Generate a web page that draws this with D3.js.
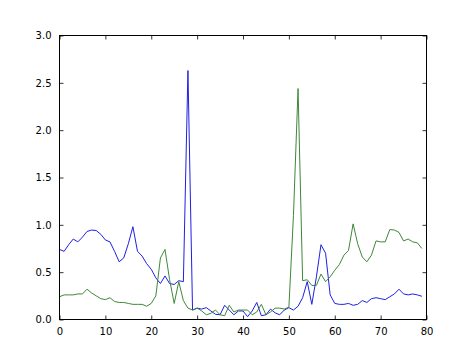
<!DOCTYPE html>
<html>
<head>
<meta charset="utf-8">
<script src="https://cdn.jsdelivr.net/npm/d3@7"></script>
<style>
  body { margin: 0; background: #fff; }
  text { font-family: "DejaVu Sans", sans-serif; font-size: 10px; fill: #000; }
</style>
</head>
<body>
<div id="chart"></div>
<script>
// values, one per index 0..79
const blueValues = [
  0.74, 0.72, 0.79, 0.85, 0.82, 0.87, 0.93, 0.945, 0.94, 0.9,
  0.84, 0.82, 0.72, 0.61, 0.65, 0.8, 0.98, 0.72, 0.67, 0.59,
  0.53, 0.44, 0.38, 0.46, 0.38, 0.37, 0.41, 0.4, 2.63, 0.1,
  0.12, 0.11, 0.125, 0.09, 0.055, 0.05, 0.15, 0.1, 0.05, 0.09,
  0.09, 0.03, 0.09, 0.18, 0.04, 0.05, 0.11, 0.07, 0.05, 0.1,
  0.125, 0.1, 0.14, 0.23, 0.4, 0.16, 0.45, 0.79, 0.7, 0.26,
  0.17, 0.16, 0.16, 0.17, 0.15, 0.16, 0.2, 0.18, 0.22, 0.23,
  0.22, 0.21, 0.24, 0.27, 0.32, 0.27, 0.26, 0.27, 0.26, 0.245
];
const greenValues = [
  0.24, 0.26, 0.26, 0.26, 0.27, 0.27, 0.32, 0.28, 0.25, 0.22,
  0.21, 0.23, 0.19, 0.18, 0.18, 0.17, 0.16, 0.16, 0.16, 0.14,
  0.17, 0.25, 0.65, 0.74, 0.42, 0.17, 0.4, 0.2, 0.12, 0.1,
  0.12, 0.09, 0.05, 0.065, 0.1, 0.05, 0.04, 0.15, 0.08, 0.1,
  0.1, 0.1, 0.05, 0.08, 0.16, 0.05, 0.08, 0.12, 0.12, 0.11,
  0.13, 1.1, 2.44, 0.41, 0.42, 0.36, 0.36, 0.48, 0.4, 0.45,
  0.52, 0.58, 0.68, 0.73, 1.01, 0.8, 0.66, 0.61, 0.68, 0.83,
  0.82, 0.82, 0.95, 0.945, 0.92, 0.83, 0.85, 0.82, 0.81, 0.75
];
const xTicks = [0, 10, 20, 30, 40, 50, 60, 70, 80];
const yTicks = [0, 0.5, 1.0, 1.5, 2.0, 2.5, 3.0];

const width = 474;
const height = 355;
const margin = { top: 35.5, right: 47.5, bottom: 35.5, left: 59.5 };
const innerW = width - margin.left - margin.right;
const innerH = height - margin.top - margin.bottom;

const svg = d3
  .select("#chart")
  .append("svg")
  .attr("width", width)
  .attr("height", height);

const g = svg
  .append("g")
  .attr("transform", `translate(${margin.left},${margin.top})`);

const x = d3.scaleLinear().domain([0, 80]).range([0, innerW]);
const y = d3.scaleLinear().domain([0, 3]).range([innerH, 0]);

// lines
const line = d3
  .line()
  .x((d, i) => x(i))
  .y((d) => y(d));

g.append("path")
  .datum(blueValues)
  .attr("fill", "none")
  .attr("stroke", "#1f1fe6")
  .attr("stroke-width", 1)
  .attr("d", line);

g.append("path")
  .datum(greenValues)
  .attr("fill", "none")
  .attr("stroke", "#3f873a")
  .attr("stroke-width", 1)
  .attr("d", line);

// axes, matplotlib style: ticks point inward, on all four sides
const fmt = d3.format(".1f");

const axisB = g
  .append("g")
  .attr("transform", `translate(0,${innerH})`)
  .call(d3.axisBottom(x).tickValues(xTicks).tickSizeInner(-4).tickSizeOuter(0).tickPadding(8));
const axisT = g
  .append("g")
  .call(d3.axisTop(x).tickValues(xTicks).tickSizeInner(-4).tickSizeOuter(0).tickFormat(""));
const axisL = g
  .append("g")
  .call(d3.axisLeft(y).tickValues(yTicks).tickSizeInner(-4).tickSizeOuter(0).tickPadding(8).tickFormat(fmt));
const axisR = g
  .append("g")
  .attr("transform", `translate(${innerW},0)`)
  .call(d3.axisRight(y).tickValues(yTicks).tickSizeInner(-4).tickSizeOuter(0).tickFormat(""));

[axisB, axisT, axisL, axisR].forEach((a) => {
  a.select(".domain").remove();
  a.selectAll("line").attr("stroke", "#000").attr("stroke-width", 0.8);
  a.selectAll("text").attr("font-size", 10).attr("font-family", "DejaVu Sans, sans-serif");
});

// frame
g.append("rect")
  .attr("width", innerW)
  .attr("height", innerH)
  .attr("fill", "none")
  .attr("stroke", "#000")
  .attr("stroke-width", 1);
</script>
</body>
</html>
